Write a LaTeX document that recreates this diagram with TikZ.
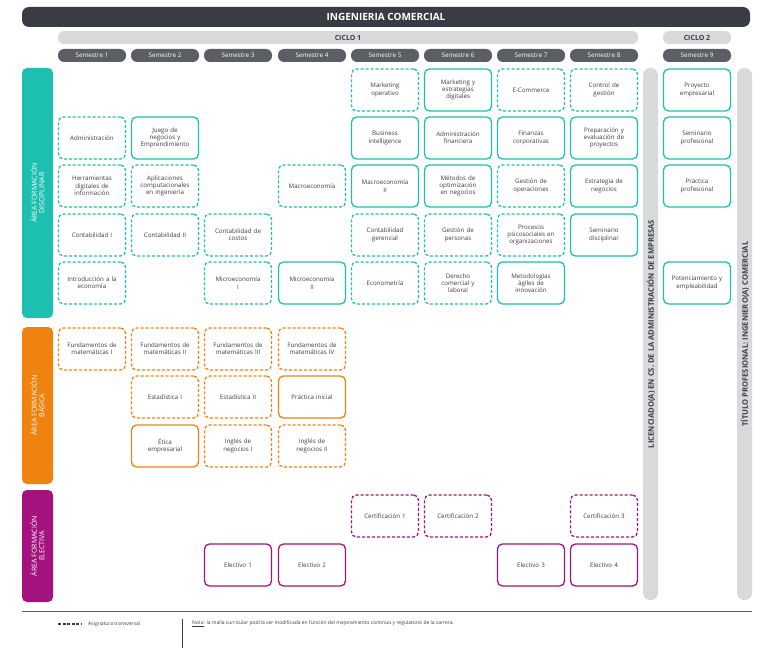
\documentclass[tikz,border=0pt]{standalone}
\usepackage{fontspec}
\setmainfont{Open Sans}
\begin{document}
\definecolor{teal}{HTML}{1CBFB0}
\definecolor{orng}{HTML}{F0820F}
\definecolor{purp}{HTML}{A2137E}
\definecolor{dark}{HTML}{3A3C44}
\definecolor{pill}{HTML}{5C5E66}
\definecolor{lgray}{HTML}{D8D9DB}
\begin{tikzpicture}[x=1pt,y=-1pt,
  box/.style={draw,line width=1.3pt,rounded corners=5pt,minimum width=66pt,minimum height=42pt,inner sep=1pt,align=center,font=\fontsize{6.2}{7.3}\selectfont,text=dark,text width=65pt},
  T/.style={box,draw=teal},O/.style={box,draw=orng},P/.style={box,draw=purp},
  d/.style={dash pattern=on 3pt off 2pt},
  sem/.style={fill=pill,rounded corners=6pt,minimum width=68pt,minimum height=13pt,inner sep=0pt,text=white,font=\fontsize{6.3}{7}\selectfont},
  area/.style={rounded corners=5pt,minimum height=31pt,inner sep=0pt},
  arealab/.style={rotate=90,text=white,align=center,font=\fontsize{7}{7.5}\selectfont},
  vlab/.style={rotate=90,text=dark,font=\bfseries\fontsize{7.6}{8}\selectfont}]
\useasboundingbox (0,0) rectangle (768,658);
% headers
\node[fill=dark,rounded corners=7pt,minimum width=728pt,minimum height=20pt,inner sep=0pt,text=white,font=\bfseries\fontsize{10}{11}\selectfont] (title) at (386,17) {INGENIERIA COMERCIAL};
\node[fill=lgray,rounded corners=6pt,minimum width=580pt,minimum height=13pt,inner sep=0pt,text=dark,font=\bfseries\fontsize{7}{8}\selectfont] (c1) at (348,37.5) {CICLO 1};
\node[fill=lgray,rounded corners=6pt,minimum width=68pt,minimum height=13pt,inner sep=0pt,text=dark,font=\bfseries\fontsize{7}{8}\selectfont] (c2) at (697,37.5) {CICLO 2};
\node[sem] (s1) at (92,55.5) {Semestre 1};
\node[sem] (s2) at (165,55.5) {Semestre 2};
\node[sem] (s3) at (238,55.5) {Semestre 3};
\node[sem] (s4) at (312,55.5) {Semestre 4};
\node[sem] (s5) at (385,55.5) {Semestre 5};
\node[sem] (s6) at (458,55.5) {Semestre 6};
\node[sem] (s7) at (531,55.5) {Semestre 7};
\node[sem] (s8) at (604,55.5) {Semestre 8};
\node[sem] (s9) at (697,55.5) {Semestre 9};
% area bars
\node[area,fill=teal,minimum width=31pt,minimum height=250pt] (ad) at (37.5,193) {};
\node[arealab] (adl) at (37.5,193) {ÁREA FORMACIÓN\\DISCIPLINAR};
\node[area,fill=orng,minimum width=31pt,minimum height=157pt] (ab) at (37.5,405.5) {};
\node[arealab] (abl) at (37.5,405.5) {ÁREA FORMACIÓN\\BÁSICA};
\node[area,fill=purp,minimum width=31pt,minimum height=112pt] (ae) at (37.5,546) {};
\node[arealab] (ael) at (37.5,546) {ÁREA FORMACIÓN\\ELECTIVA};
% gray bars
\node[fill=lgray,rounded corners=7pt,minimum width=15pt,minimum height=532pt,inner sep=0pt] (g1) at (650.5,334) {};
\node[vlab] (g1l) at (651,334) {LICENCIADO(A) EN CS. DE LA ADMINISTRACIÓN DE EMPRESAS};
\node[fill=lgray,rounded corners=7pt,minimum width=15pt,minimum height=532pt,inner sep=0pt] (g2) at (744.5,334) {};
\node[vlab] (g2l) at (745,334) {TÍTULO PROFESIONAL: INGENIERO(A) COMERCIAL};
% disciplinar rows
\node[T,d] (a1) at (92,138) {Administración};
\node[T,d] (a2) at (92,186) {Herramientas\\digitales de\\información};
\node[T,d] (a3) at (92,235) {Contabilidad I};
\node[T,d] (a4) at (92,283) {Introducción a la\\economía};
\node[T] (b1) at (165,138) {Juego de\\negocios y\\Emprendimiento};
\node[T,d] (b2) at (165,186) {Aplicaciones\\computacionales\\en ingenieria};
\node[T,d] (b3) at (165,235) {Contabilidad II};
\node[T,d] (c3) at (238,235) {Contabilidad de\\costos};
\node[T,d] (c4) at (238,283) {Microeconomía\\I};
\node[T,d] (e2) at (312,186) {Macroeconomía};
\node[T] (e4) at (312,283) {Microeconomía\\II};
\node[T,d] (f0) at (385,90) {Marketing\\operativo};
\node[T] (f1) at (385,138) {Business\\intelligence};
\node[T] (f2) at (385,186) {Macroeconomía\\II};
\node[T,d] (f3) at (385,235) {Contabilidad\\gerencial};
\node[T,d] (f4) at (385,283) {Econometría};
\node[T] (g0) at (458,90) {Marketing y\\estrategias\\digitales};
\node[T] (g1b) at (458,138) {Administración\\financiera};
\node[T] (g2b) at (458,186) {Métodos de\\optimización\\en negocios};
\node[T,d] (g3) at (458,235) {Gestión de\\personas};
\node[T,d] (g4) at (458,283) {Derecho\\comercial y\\laboral};
\node[T,d] (h0) at (531,90) {E-Commerce};
\node[T] (h1) at (531,138) {Finanzas\\corporativas};
\node[T,d] (h2) at (531,186) {Gestión de\\operaciones};
\node[T,d] (h3) at (531,235) {Procesos\\psicosociales en\\organizaciones};
\node[T] (h4) at (531,283) {Metodologías\\ágiles de\\innovación};
\node[T,d] (i0) at (604,90) {Control de\\gestión};
\node[T] (i1) at (604,138) {Preparación y\\evaluación de\\proyectos};
\node[T] (i2) at (604,186) {Estrategia de\\negocios};
\node[T] (i3) at (604,235) {Seminario\\disciplinar};
\node[T] (j0) at (697,90) {Proyecto\\empresarial};
\node[T] (j1) at (697,138) {Seminario\\profesional};
\node[T] (j2) at (697,186) {Práctica\\profesional};
\node[T] (j4) at (697,283) {Potenciamiento y\\empleabilidad};
% basica rows
\node[O,d] (o1) at (92,349) {Fundamentos de\\matemáticas I};
\node[O,d] (o2) at (165,349) {Fundamentos de\\matemáticas II};
\node[O,d] (o3) at (238,349) {Fundamentos de\\matemáticas III};
\node[O,d] (o4) at (312,349) {Fundamentos de\\matemáticas IV};
\node[O,d] (o5) at (165,397) {Estadística I};
\node[O,d] (o6) at (238,397) {Estadística II};
\node[O] (o7) at (312,397) {Práctica inicial};
\node[O] (o8) at (165,446) {Ética\\empresarial};
\node[O,d] (o9) at (238,446) {Inglés de\\negocios I};
\node[O,d] (o10) at (312,446) {Inglés de\\negocios II};
% electiva rows
\node[P,d] (p1) at (385,516) {Certificación 1};
\node[P,d] (p2) at (458,516) {Certificación 2};
\node[P,d] (p3) at (604,516) {Certificación 3};
\node[P] (q1) at (238,565) {Electivo 1};
\node[P] (q2) at (312,565) {Electivo 2};
\node[P] (q3) at (531,565) {Electivo 3};
\node[P] (q4) at (604,565) {Electivo 4};
% footer
\draw[pill,line width=0.8pt] (22,611) -- (752,611);
\coordinate (la) at (58,624); \coordinate (lb) at (82,624);
\draw[dark,line width=1.3pt,dash pattern=on 3pt off 1.5pt] (la) -- (lb);
\node[anchor=west,inner sep=0pt,font=\fontsize{5}{6}\selectfont,text=dark] (leg) at (88,624) {Asignatura transversal};
\coordinate (va) at (182,619); \coordinate (vb) at (182,648);
\draw[dark,line width=1pt] (va) -- (vb);
\node[anchor=west,inner sep=0pt,font=\fontsize{5}{6}\selectfont,text=dark] (note) at (192,624) {\underline{Nota}: la malla curricular podría ser modificada en función del mejoramiento continuo y regulatorio de la carrera.};
\end{tikzpicture}
\end{document}
